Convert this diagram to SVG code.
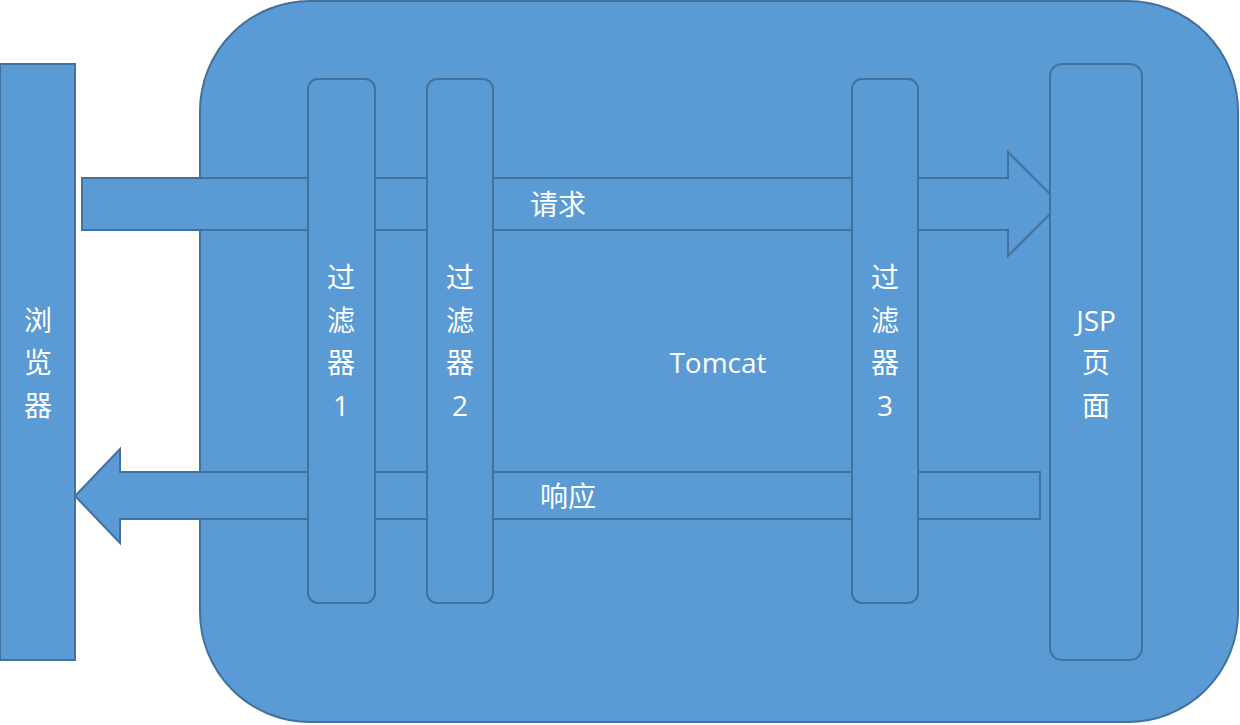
<svg xmlns="http://www.w3.org/2000/svg" width="1240" height="725" viewBox="0 0 1240 725">
<style>
.s{fill:#5B9BD5;stroke:#41719C;stroke-width:2}
.t{fill:#fff;font-family:"Open Sans","Noto Sans CJK SC",sans-serif;font-size:28px;text-anchor:middle;dominant-baseline:central}
</style>
<rect width="1240" height="725" fill="#fff"/>
<g id="tomcat"><rect class="s" x="200" y="1" width="1038" height="721" rx="110"/><text class="t" x="718" y="362">Tomcat</text></g>
<g id="connectors">
<path class="s" d="M82,178H1008V152L1060,204L1008,256V230H82Z"/>
<path class="s" d="M1040,472H120V449L75,496L120,543V519H1040Z"/>
<text class="t" x="558" y="204">请求</text>
<text class="t" x="568" y="496">响应</text>
</g>
<g id="browser"><rect class="s" x="0" y="64" width="75" height="596"/>
<text class="t" x="38" y="320">浏</text><text class="t" x="38" y="362">览</text><text class="t" x="38" y="405">器</text></g>
<g id="filter1"><rect class="s" x="308" y="79" width="67" height="524" rx="10"/>
<text class="t" x="341" y="277">过</text><text class="t" x="341" y="320">滤</text><text class="t" x="341" y="362">器</text><text class="t" x="341" y="405">1</text></g>
<g id="filter2"><rect class="s" x="427" y="79" width="66" height="524" rx="10"/>
<text class="t" x="460" y="277">过</text><text class="t" x="460" y="320">滤</text><text class="t" x="460" y="362">器</text><text class="t" x="460" y="405">2</text></g>
<g id="filter3"><rect class="s" x="852" y="79" width="66" height="524" rx="10"/>
<text class="t" x="885" y="277">过</text><text class="t" x="885" y="320">滤</text><text class="t" x="885" y="362">器</text><text class="t" x="885" y="405">3</text></g>
<g id="jsp"><rect class="s" x="1050" y="64" width="92" height="596" rx="12"/>
<text class="t" x="1096" y="320">JSP</text><text class="t" x="1096" y="362">页</text><text class="t" x="1096" y="405">面</text></g>
</svg>
